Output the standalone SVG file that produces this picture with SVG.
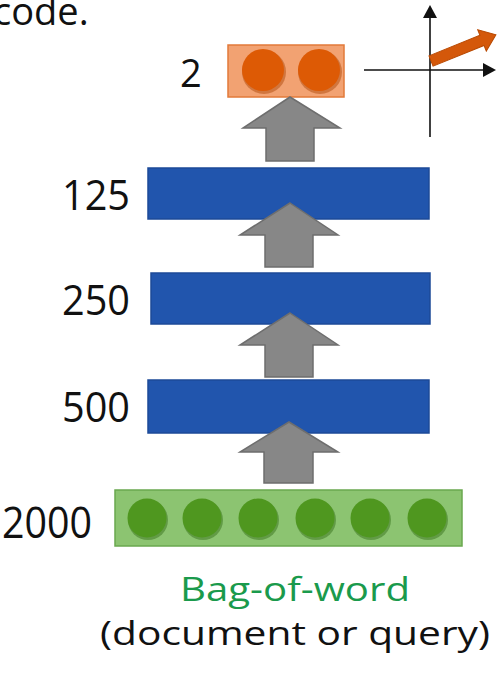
<svg xmlns="http://www.w3.org/2000/svg" width="498" height="673" viewBox="0 0 498 673">
<defs>
<style>
.lbl{font-family:"Open Sans","Noto Sans","Liberation Sans",sans-serif;fill:#111;}
.bar{fill:#2155ad;stroke:#1c4a98;stroke-width:1.5;}
.garrow{fill:#878787;stroke:#6e6e6e;stroke-width:1.5;}
.axis{stroke:#111;stroke-width:1.6;fill:none;}
.osh{fill:#a84000;opacity:0.45;}
.oc{fill:#dd5a05;}
.gsh{fill:#2f6a12;opacity:0.45;}
.gc{fill:#4f971f;}
</style>
</defs>
<rect width="498" height="673" fill="#ffffff"/>
<text class="lbl" x="-7" y="25" font-size="38">code.</text>

<g id="axes">
<line class="axis" x1="430" y1="14" x2="430" y2="137"/>
<polygon points="430,5 423,18 437,18" fill="#111"/>
<line class="axis" x1="364" y1="70" x2="486" y2="70"/>
<polygon points="496,70 483,63 483,77" fill="#111"/>
<polygon transform="translate(431,61) rotate(-22)" points="0,-5.5 55,-5.5 55,-11.5 70,0 55,11.5 55,5.5 0,5.5" fill="#d4580a" stroke="#b84800" stroke-width="1"/>
</g>

<g id="output-layer">
<rect x="228" y="45" width="116" height="52" fill="#f2a272" stroke="#e27a3a" stroke-width="1.5"/>
<circle class="osh" cx="264" cy="72" r="22"/>
<circle class="oc" cx="263" cy="70" r="21"/>
<circle class="osh" cx="320" cy="72" r="22"/>
<circle class="oc" cx="319" cy="70" r="21"/>
<text class="lbl" x="180" y="87" font-size="38">2</text>
</g>

<g id="layer-125">
<rect class="bar" x="148" y="168" width="281" height="51"/>
<text class="lbl" x="62" y="210" font-size="42" textLength="68" lengthAdjust="spacingAndGlyphs">125</text>
</g>

<g id="layer-250">
<rect class="bar" x="151" y="273" width="279" height="51"/>
<text class="lbl" x="62" y="315" font-size="42" textLength="68" lengthAdjust="spacingAndGlyphs">250</text>
</g>

<g id="layer-500">
<rect class="bar" x="148" y="380" width="281" height="53"/>
<text class="lbl" x="62" y="422" font-size="42" textLength="68" lengthAdjust="spacingAndGlyphs">500</text>
</g>

<g id="input-layer">
<rect x="115" y="490" width="347" height="56" fill="#8cc471" stroke="#6aa84f" stroke-width="1.5"/>
<circle class="gsh" cx="148" cy="520" r="20"/><circle class="gc" cx="147" cy="518" r="19.5"/>
<circle class="gsh" cx="203" cy="520" r="20"/><circle class="gc" cx="202" cy="518" r="19.5"/>
<circle class="gsh" cx="259" cy="520" r="20"/><circle class="gc" cx="258" cy="518" r="19.5"/>
<circle class="gsh" cx="316" cy="520" r="20"/><circle class="gc" cx="315" cy="518" r="19.5"/>
<circle class="gsh" cx="371" cy="520" r="20"/><circle class="gc" cx="370" cy="518" r="19.5"/>
<circle class="gsh" cx="428" cy="520" r="20"/><circle class="gc" cx="427" cy="518" r="19.5"/>
<text class="lbl" x="2" y="538" font-size="44" textLength="90" lengthAdjust="spacingAndGlyphs">2000</text>
<text class="lbl" x="295" y="601" font-size="32" text-anchor="middle" style="fill:#1a9a4c" textLength="230" lengthAdjust="spacingAndGlyphs">Bag-of-word</text>
<text class="lbl" x="295" y="645" font-size="33" text-anchor="middle" textLength="390" lengthAdjust="spacingAndGlyphs">(document or query)</text>
</g>

<g id="connectors">
<polygon class="garrow" points="290,97 340,128 314,128 314,161 266,161 266,128 243,128"/>
<polygon class="garrow" points="290,203 338,235 313,235 313,267 265,267 265,235 240,235"/>
<polygon class="garrow" points="290,313 338,345 313,345 313,377 265,377 265,345 240,345"/>
<polygon class="garrow" points="289,422 338,452 313,452 313,483 264,483 264,452 240,452"/>
</g>
</svg>
